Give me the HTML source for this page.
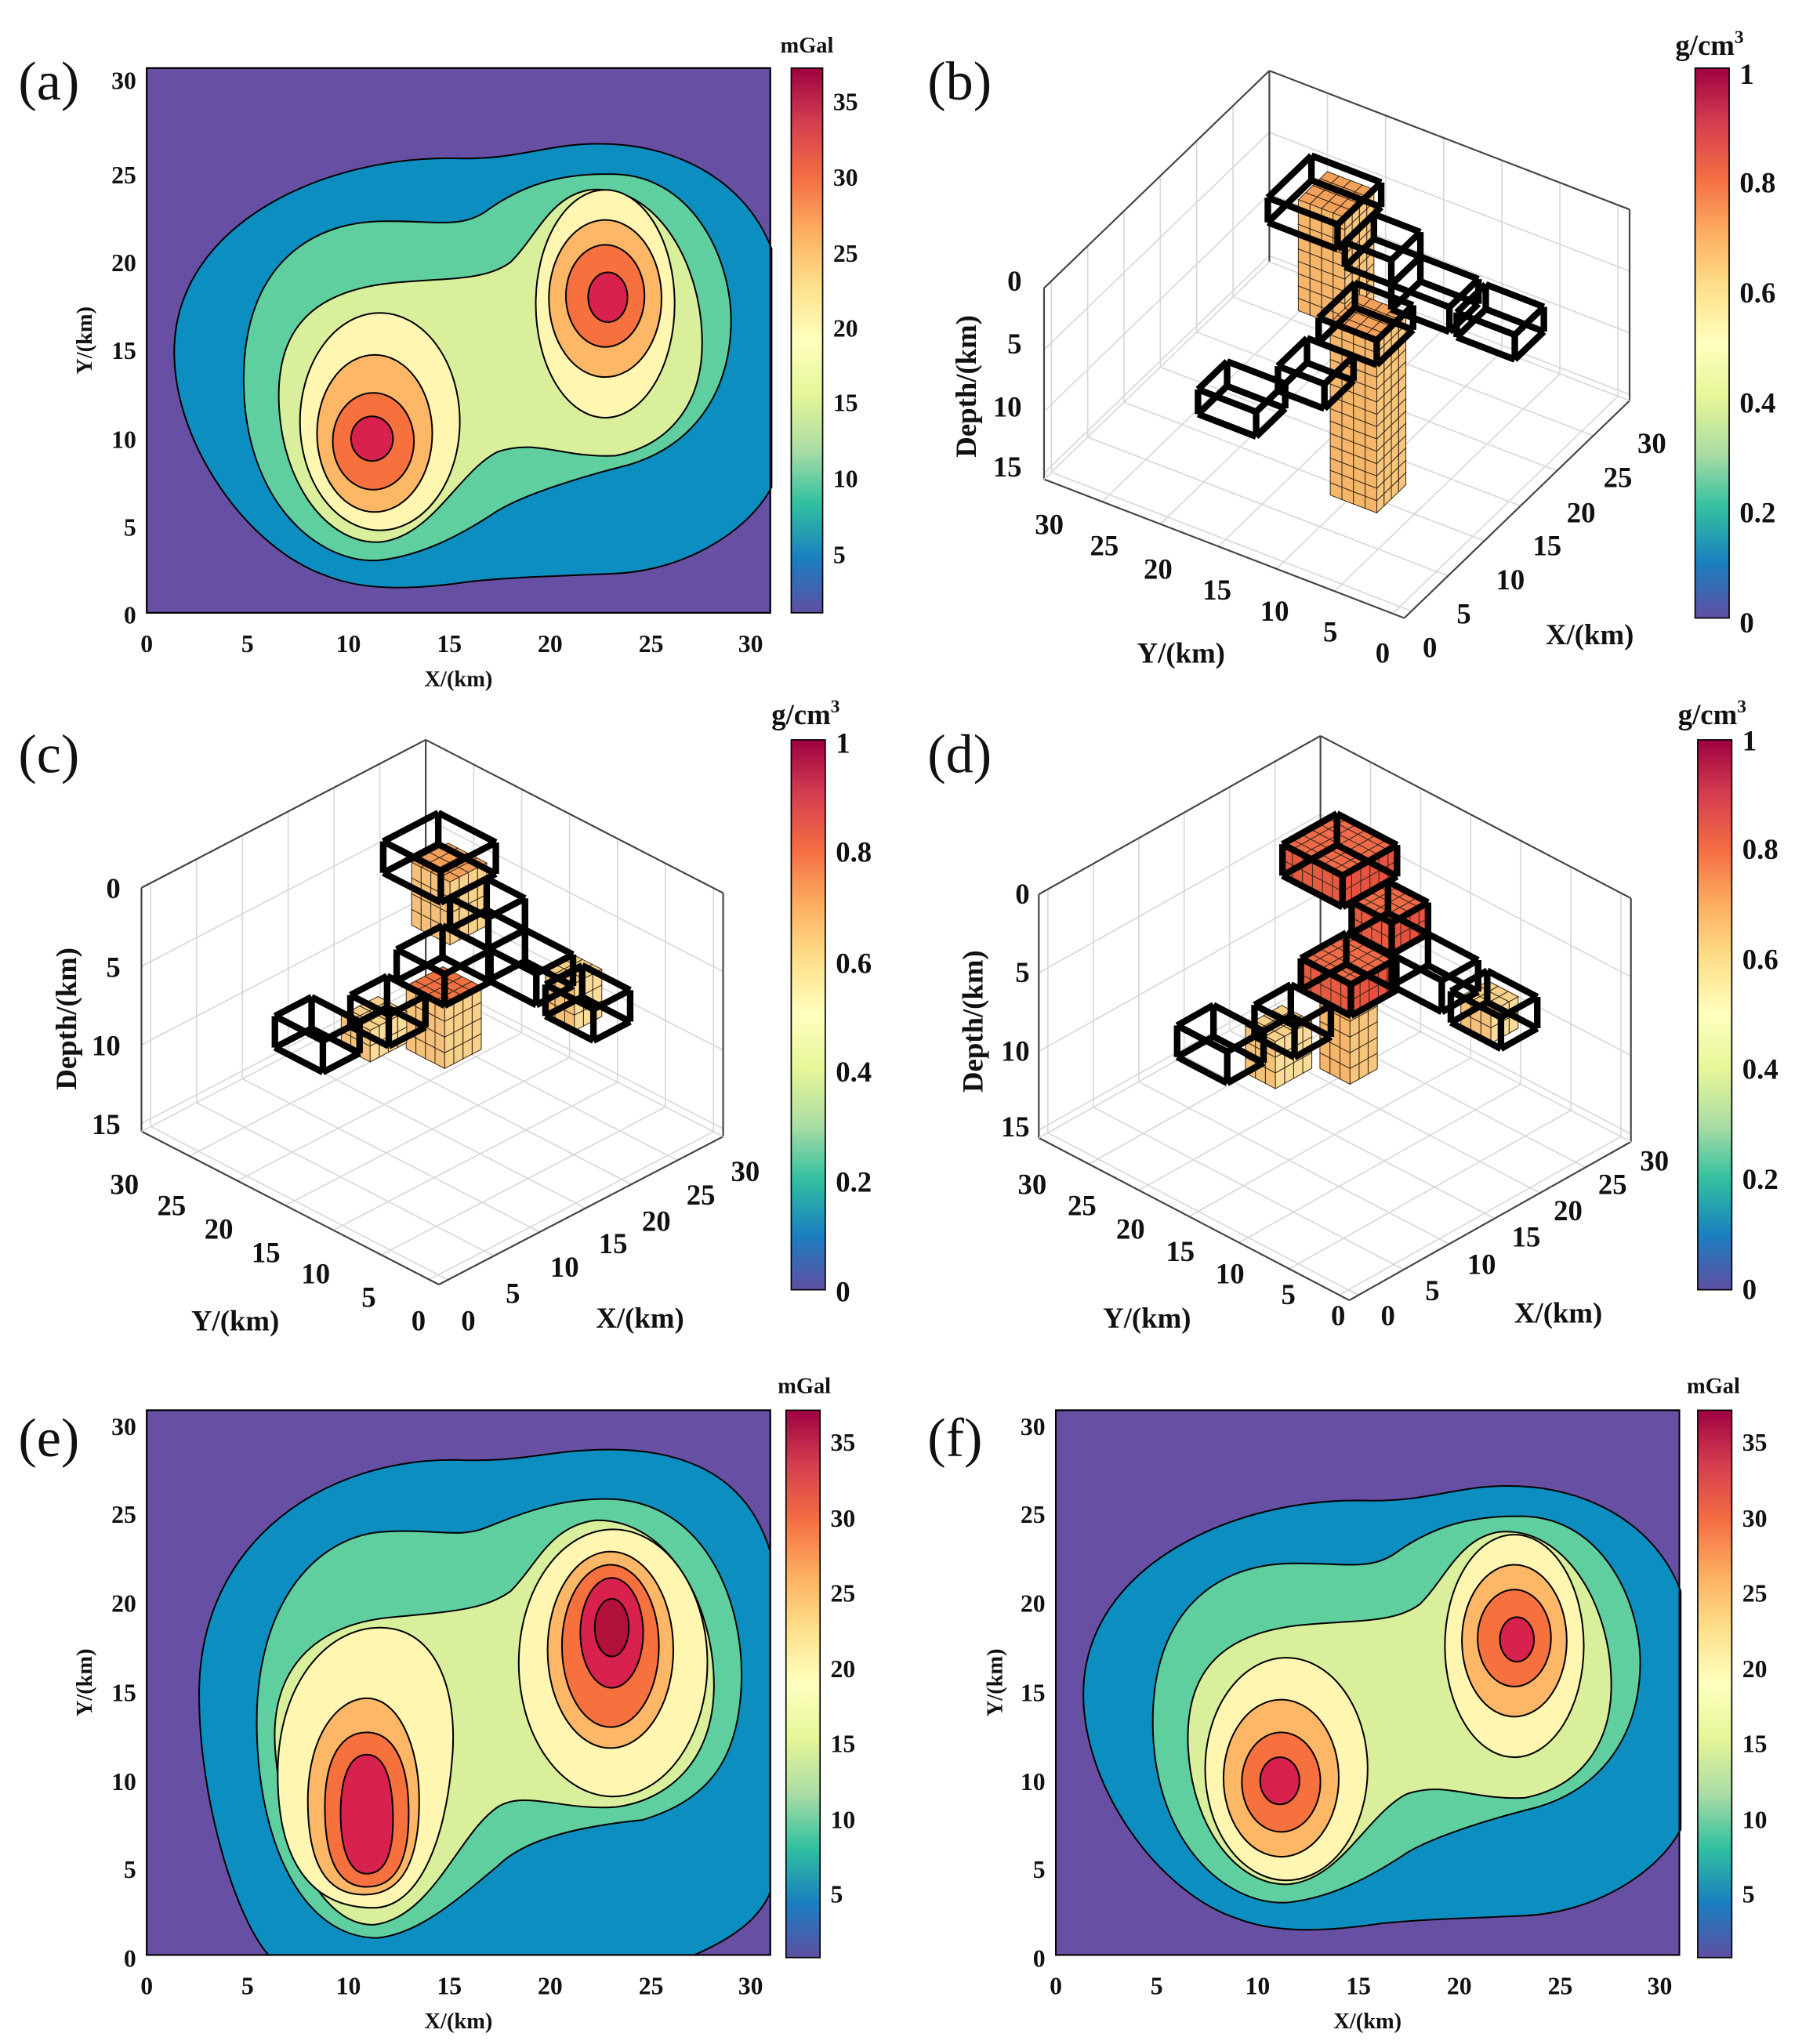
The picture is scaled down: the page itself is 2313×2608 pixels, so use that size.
<!DOCTYPE html>
<html><head><meta charset="utf-8"><style>
html,body{margin:0;padding:0;background:#fff}
svg{display:block}
text{font-family:"Liberation Serif",serif;font-weight:bold;fill:#111}
.t{font-size:19px}
.t3{font-size:22px}
.pl text{font-size:42px;font-weight:normal}
</style></head><body>
<svg id="s" width="2313" height="2608" viewBox="0 0 1384 1561" preserveAspectRatio="none" xmlns="http://www.w3.org/2000/svg">
<defs>
<linearGradient id="cb" x1="0" y1="0" x2="0" y2="1">
<stop offset="0" stop-color="#9e0142"/><stop offset="0.1" stop-color="#d53e4f"/><stop offset="0.2" stop-color="#f46d43"/><stop offset="0.3" stop-color="#fdae61"/><stop offset="0.4" stop-color="#fee08b"/><stop offset="0.5" stop-color="#ffffbf"/><stop offset="0.6" stop-color="#e6f598"/><stop offset="0.7" stop-color="#abdda4"/><stop offset="0.8" stop-color="#31c0a0"/><stop offset="0.9" stop-color="#1a7fc0"/><stop offset="1" stop-color="#5e4fa2"/>
</linearGradient>
<g id="cbase" stroke="#000" stroke-width="1.2">
<rect x="112" y="52" width="476" height="416" fill="#6750a4"/>
<path fill="#0d8ec0" d="M 589 190 C 570 140, 520 112, 465 110 C 420 108, 400 122, 350 121 C 250 118, 133 170, 133 269 C 133 340, 190 420, 250 440 C 280 452, 320 450, 360 444 C 400 440, 430 440, 470 438 C 530 435, 575 400, 589 372 Z"/>
<path fill="#5fcfa0" d="M 186 290 C 186 200, 240 170, 290 169 C 330 168, 350 175, 370 162 C 400 140, 430 132, 470 133 C 530 135, 560 200, 558 250 C 556 300, 530 340, 480 355 C 440 365, 400 378, 380 390 C 350 410, 320 425, 288 428 C 240 430, 186 380, 186 290 Z"/>
<path fill="#d9ef9b" d="M 213 310 C 210 250, 240 222, 300 216 C 340 212, 370 215, 390 200 C 410 180, 420 150, 450 145 C 500 140, 536 200, 536 262 C 536 310, 510 340, 470 348 C 430 350, 410 335, 380 345 C 350 360, 330 410, 290 414 C 250 416, 216 370, 213 310 Z"/>
</g>
</defs>
<!-- panel a -->
<use href="#cbase"/>
<g stroke="#000" stroke-width="1.2">
<ellipse cx="290" cy="322" rx="61" ry="83" fill="#fff6b2"/>
<ellipse cx="286" cy="331" rx="44" ry="60" fill="#fdb767"/>
<ellipse cx="285" cy="337" rx="31" ry="37" fill="#f7713f"/>
<ellipse cx="284" cy="335" rx="16" ry="17" fill="#d8214d"/>
<ellipse cx="462" cy="232" rx="53" ry="87" fill="#fff6b2"/>
<ellipse cx="462" cy="228" rx="43" ry="60" fill="#fdb767"/>
<ellipse cx="462" cy="226" rx="30" ry="39" fill="#f7713f"/>
<ellipse cx="464" cy="227" rx="15" ry="19" fill="#d8214d"/>
<rect x="112" y="52" width="476" height="416" fill="none"/>
</g>
<!-- panel f -->
<g transform="translate(694,1025)">
<use href="#cbase"/>
<g stroke="#000" stroke-width="1.2">
<ellipse cx="288" cy="326" rx="62" ry="85" fill="#fff6b2"/>
<ellipse cx="284" cy="333" rx="44" ry="60" fill="#fdb767"/>
<ellipse cx="284" cy="336" rx="30" ry="38" fill="#f7713f"/>
<ellipse cx="283" cy="335" rx="15" ry="18" fill="#d8214d"/>
<ellipse cx="462" cy="232" rx="53" ry="85" fill="#fff6b2"/>
<ellipse cx="462" cy="228" rx="40" ry="58" fill="#fdb767"/>
<ellipse cx="462" cy="226" rx="28" ry="37" fill="#f7713f"/>
<ellipse cx="464" cy="227" rx="13" ry="17" fill="#d8214d"/>
<rect x="112" y="52" width="476" height="416" fill="none"/>
</g></g>
<!-- panel e -->
<g transform="translate(0,1025)" stroke="#000" stroke-width="1.2">
<rect x="112" y="52" width="476" height="416" fill="#6750a4"/>
<path fill="#0d8ec0" d="M 588 160 C 570 100, 520 82, 465 82 C 420 82, 400 92, 350 90 C 250 88, 152 150, 152 269 C 152 350, 180 440, 205 468 L 530 468 C 560 455, 580 440, 588 420 Z"/>
<path fill="#5fcfa0" d="M 196 290 C 196 200, 240 150, 290 145 C 330 142, 350 150, 370 142 C 400 130, 430 118, 470 120 C 540 125, 568 200, 566 260 C 564 320, 540 350, 490 365 C 440 370, 400 380, 380 400 C 350 425, 320 452, 288 455 C 230 455, 196 380, 196 290 Z"/>
<path fill="#d9ef9b" d="M 210 310 C 206 250, 240 215, 300 210 C 340 206, 370 205, 390 190 C 410 170, 420 140, 455 136 C 510 135, 545 200, 545 262 C 545 320, 510 350, 470 355 C 430 358, 400 342, 380 355 C 350 375, 330 440, 285 445 C 240 445, 214 370, 210 310 Z"/>
<path fill="#fff6b2" d="M 212 330 C 212 260, 250 218, 290 218 C 335 218, 350 270, 345 320 C 340 380, 320 432, 285 432 C 240 432, 212 400, 212 330 Z"/>
<path fill="#fdb767" d="M 235 350 C 235 300, 258 272, 280 272 C 305 272, 320 310, 320 350 C 320 400, 305 422, 278 422 C 250 422, 235 400, 235 350 Z"/>
<path fill="#f7713f" d="M 248 355 C 248 315, 262 298, 280 298 C 300 298, 312 320, 312 360 C 312 400, 300 416, 280 416 C 258 416, 248 395, 248 355 Z"/>
<path fill="#d8214d" d="M 260 360 C 260 330, 268 315, 280 315 C 292 315, 300 330, 300 365 C 300 395, 292 406, 280 406 C 268 406, 260 390, 260 360 Z"/>
<ellipse cx="468" cy="245" rx="72" ry="102" fill="#fff6b2"/>
<ellipse cx="466" cy="235" rx="48" ry="75" fill="#fdb767"/>
<ellipse cx="466" cy="232" rx="37" ry="62" fill="#f7713f"/>
<ellipse cx="467" cy="222" rx="24" ry="42" fill="#d8214d"/>
<ellipse cx="467" cy="218" rx="13" ry="22" fill="#b0103a"/>
<rect x="112" y="52" width="476" height="416" fill="none"/>
</g>
<!-- colorbars -->
<g stroke="#000" stroke-width="1">
<rect x="604" y="52" width="24" height="416" fill="url(#cb)"/>
<rect x="1294" y="52" width="26" height="420" fill="url(#cb)"/>
<rect x="604" y="565" width="26" height="420" fill="url(#cb)"/>
<rect x="1296" y="565" width="26" height="420" fill="url(#cb)"/>
<rect x="600" y="1077" width="26" height="418" fill="url(#cb)"/>
<rect x="1296" y="1077" width="26" height="418" fill="url(#cb)"/>
</g>
<g class="t">
<text x="616" y="40" text-anchor="middle" font-size="17">mGal</text>
<text x="636" y="84">35</text><text x="636" y="142">30</text><text x="636" y="200">25</text><text x="636" y="257">20</text><text x="636" y="314">15</text><text x="636" y="372">10</text><text x="636" y="430">5</text>
<text x="614" y="1064" text-anchor="middle" font-size="17">mGal</text>
<text x="634" y="1108">35</text><text x="634" y="1166">30</text><text x="634" y="1223">25</text><text x="634" y="1281">20</text><text x="634" y="1338">15</text><text x="634" y="1396">10</text><text x="634" y="1453">5</text>
<text x="1308" y="1064" text-anchor="middle" font-size="17">mGal</text>
<text x="1330" y="1108">35</text><text x="1330" y="1166">30</text><text x="1330" y="1223">25</text><text x="1330" y="1281">20</text><text x="1330" y="1338">15</text><text x="1330" y="1396">10</text><text x="1330" y="1453">5</text>
</g>
<g class="t3">
<text x="1305" y="42" text-anchor="middle">g/cm<tspan dy="-9" font-size="14">3</tspan></text>
<text x="1328" y="64">1</text><text x="1328" y="147">0.8</text><text x="1328" y="231">0.6</text><text x="1328" y="315">0.4</text><text x="1328" y="399">0.2</text><text x="1328" y="483">0</text>
<text x="615" y="553" text-anchor="middle">g/cm<tspan dy="-9" font-size="14">3</tspan></text>
<text x="638" y="575">1</text><text x="638" y="658">0.8</text><text x="638" y="743">0.6</text><text x="638" y="826">0.4</text><text x="638" y="910">0.2</text><text x="638" y="994">0</text>
<text x="1307" y="553" text-anchor="middle">g/cm<tspan dy="-9" font-size="14">3</tspan></text>
<text x="1330" y="573">1</text><text x="1330" y="656">0.8</text><text x="1330" y="740">0.6</text><text x="1330" y="824">0.4</text><text x="1330" y="908">0.2</text><text x="1330" y="992">0</text>
</g>
<!-- 2D axis ticks -->
<g class="t" text-anchor="end">
<text x="104" y="68">30</text><text x="104" y="140">25</text><text x="104" y="207">20</text><text x="104" y="274">15</text><text x="104" y="342">10</text><text x="104" y="409">5</text><text x="104" y="476">0</text>
<text x="104" y="1096">30</text><text x="104" y="1163">25</text><text x="104" y="1231">20</text><text x="104" y="1299">15</text><text x="104" y="1367">10</text><text x="104" y="1434">5</text><text x="104" y="1502">0</text>
<text x="798" y="1096">30</text><text x="798" y="1163">25</text><text x="798" y="1231">20</text><text x="798" y="1299">15</text><text x="798" y="1367">10</text><text x="798" y="1434">5</text><text x="798" y="1502">0</text>
</g>
<g class="t" text-anchor="middle">
<text x="112" y="498">0</text><text x="189" y="498">5</text><text x="266" y="498">10</text><text x="343" y="498">15</text><text x="420" y="498">20</text><text x="497" y="498">25</text><text x="573" y="498">30</text>
<text x="350" y="524" font-size="17">X/(km)</text>
<text x="112" y="1523">0</text><text x="189" y="1523">5</text><text x="266" y="1523">10</text><text x="343" y="1523">15</text><text x="420" y="1523">20</text><text x="497" y="1523">25</text><text x="573" y="1523">30</text>
<text x="350" y="1549" font-size="17">X/(km)</text>
<text x="806" y="1523">0</text><text x="883" y="1523">5</text><text x="960" y="1523">10</text><text x="1037" y="1523">15</text><text x="1114" y="1523">20</text><text x="1191" y="1523">25</text><text x="1267" y="1523">30</text>
<text x="1044" y="1549" font-size="17">X/(km)</text>
<text transform="translate(70,260) rotate(-90)" font-size="17">Y/(km)</text>
<text transform="translate(70,1285) rotate(-90)" font-size="17">Y/(km)</text>
<text transform="translate(765,1285) rotate(-90)" font-size="17">Y/(km)</text>
</g>
<g class="pl">
<text x="14" y="76">(a)</text><text x="708" y="76">(b)</text>
<text x="14" y="590">(c)</text><text x="708" y="590">(d)</text>
<text x="14" y="1112">(e)</text><text x="708" y="1112">(f)</text>
</g>
<!-- 3D labels -->
<g class="t3">
<text x="780" y="222" text-anchor="end">0</text><text x="780" y="270" text-anchor="end">5</text><text x="780" y="318" text-anchor="end">10</text><text x="780" y="364" text-anchor="end">15</text>
<text transform="translate(745,295) rotate(-90)" text-anchor="middle">Depth/(km)</text>
<text x="790" y="408">30</text><text x="832" y="424">25</text><text x="873" y="442">20</text><text x="918" y="458">15</text><text x="962" y="474">10</text><text x="1010" y="490">5</text><text x="1050" y="506">0</text>
<text x="868" y="506">Y/(km)</text>
<text x="1086" y="502">0</text><text x="1112" y="476">5</text><text x="1142" y="450">10</text><text x="1170" y="424">15</text><text x="1196" y="399">20</text><text x="1224" y="372">25</text><text x="1250" y="346">30</text>
<text x="1180" y="492">X/(km)</text>

<text x="92" y="686" text-anchor="end">0</text><text x="92" y="746" text-anchor="end">5</text><text x="92" y="806" text-anchor="end">10</text><text x="92" y="866" text-anchor="end">15</text>
<text transform="translate(58,778) rotate(-90)" text-anchor="middle">Depth/(km)</text>
<text x="84" y="912">30</text><text x="120" y="928">25</text><text x="156" y="946">20</text><text x="192" y="964">15</text><text x="230" y="980">10</text><text x="276" y="998">5</text><text x="314" y="1016">0</text>
<text x="146" y="1016">Y/(km)</text>
<text x="352" y="1016">0</text><text x="386" y="995">5</text><text x="420" y="975">10</text><text x="457" y="957">15</text><text x="490" y="940">20</text><text x="524" y="920">25</text><text x="558" y="902">30</text>
<text x="455" y="1014">X/(km)</text>

<text x="786" y="690" text-anchor="end">0</text><text x="786" y="750" text-anchor="end">5</text><text x="786" y="810" text-anchor="end">10</text><text x="786" y="868" text-anchor="end">15</text>
<text transform="translate(750,780) rotate(-90)" text-anchor="middle">Depth/(km)</text>
<text x="777" y="912">30</text><text x="815" y="928">25</text><text x="852" y="946">20</text><text x="890" y="963">15</text><text x="928" y="980">10</text><text x="978" y="996">5</text><text x="1016" y="1012">0</text>
<text x="842" y="1014">Y/(km)</text>
<text x="1054" y="1012">0</text><text x="1088" y="993">5</text><text x="1120" y="973">10</text><text x="1154" y="952">15</text><text x="1186" y="932">20</text><text x="1220" y="912">25</text><text x="1252" y="894">30</text>
<text x="1156" y="1010">X/(km)</text>
</g>
<g id="g3"></g>
</svg>
<script>
(function(){
var NS="http://www.w3.org/2000/svg",root=document.getElementById("g3");
function el(t,a,p){var e=document.createElementNS(NS,t);for(var k in a)e.setAttribute(k,a[k]);(p||root).appendChild(e);return e;}
function line(a,b,c,w,p){el("line",{x1:a[0],y1:a[1],x2:b[0],y2:b[1],stroke:c,"stroke-width":w},p);}
function add(a,b){return[a[0]+b[0],a[1]+b[1]];}
function sub(a,b){return[a[0]-b[0],a[1]-b[1]];}
function mul(a,s){return[a[0]*s,a[1]*s];}
function make(L,B,R,h){
 var H=[0,h],Lb=add(L,H),Bb=add(B,H),Rb=add(R,H),Fb=sub(add(Lb,Rb),Bb);
 var G={u:mul(sub(Lb,Fb),1/31),v:mul(sub(Rb,Fb),1/31),w:[0,h/15.5],Ft:sub(Fb,H)};
 G.p=function(x,y,z){return[G.Ft[0]+x*G.v[0]+y*G.u[0],G.Ft[1]+x*G.v[1]+y*G.u[1]+z*G.w[1]];};
 var g=el("g",{});
 var gc="#d8d8d8";
 for(var i=1;i<=6;i++){var t=i*5/31;
  var P=add(Bb,mul(sub(Rb,Bb),t));line(P,add(P,sub(Lb,Bb)),gc,1,g);
  P=add(Bb,mul(sub(Lb,Bb),t));line(P,add(P,sub(Rb,Bb)),gc,1,g);
  P=add(B,mul(sub(R,B),t));line(P,add(P,H),gc,1,g);
  P=add(B,mul(sub(L,B),t));line(P,add(P,H),gc,1,g);}
 for(var d=5;d<=15;d+=5){var o=[0,d*h/15.5];line(add(L,o),add(B,o),gc,1,g);line(add(B,o),add(R,o),gc,1,g);}
 var k="#444";
 line(L,B,k,1.3,g);line(B,R,k,1.3,g);line(L,Lb,k,1.3,g);line(B,Bb,k,1.3,g);line(R,Rb,k,1.3,g);
 line(Lb,Fb,k,1.3,g);line(Fb,Rb,k,1.3,g);line(Lb,Bb,gc,1,g);line(Bb,Rb,gc,1,g);
 return G;}
function poly(pts,f,s,w){el("polygon",{points:pts.map(function(q){return q[0].toFixed(1)+","+q[1].toFixed(1)}).join(" "),fill:f,stroke:s,"stroke-width":w});}
function vox(G,cells,top,side,side2){
 cells.sort(function(a,b){return (b[0]+b[1])-(a[0]+a[1])||b[2]-a[2];});
 cells.forEach(function(c){var x=c[0],y=c[1],z=c[2],p=G.p;var col=c[3]||top;
  poly([p(x,y,z),p(x+1,y,z),p(x+1,y+1,z),p(x,y+1,z)],col,"#3a2a1a",0.6);
  poly([p(x,y,z),p(x+1,y,z),p(x+1,y,z+1),p(x,y,z+1)],c[4]||side,"#3a2a1a",0.6);
  poly([p(x,y,z),p(x,y+1,z),p(x,y+1,z+1),p(x,y,z+1)],c[5]||side2,"#3a2a1a",0.6);});}
function col(a,x0,x1,y0,y1,z0,z1,t,s,s2){for(var x=x0;x<x1;x++)for(var y=y0;y<y1;y++)for(var z=z0;z<z1;z++)a.push([x,y,z,t,s,s2]);}
function frame(G,b){var x0=b[0],x1=b[1],y0=b[2],y1=b[3],z0=b[4],z1=b[5],p=G.p;
 var E=[[[x0,y0,z0],[x1,y0,z0]],[[x1,y0,z0],[x1,y1,z0]],[[x1,y1,z0],[x0,y1,z0]],[[x0,y1,z0],[x0,y0,z0]],
 [[x0,y0,z1],[x1,y0,z1]],[[x1,y0,z1],[x1,y1,z1]],[[x1,y1,z1],[x0,y1,z1]],[[x0,y1,z1],[x0,y0,z1]],
 [[x0,y0,z0],[x0,y0,z1]],[[x1,y0,z0],[x1,y0,z1]],[[x1,y1,z0],[x1,y1,z1]],[[x0,y1,z0],[x0,y1,z1]]];
 E.forEach(function(e){line(p.apply(null,e[0]),p.apply(null,e[1]),"#000",5);});}
var frames=[[18,24,17,23,0,2],[19,23,13,17,2,4],[19,23,8,13,4,6],[20,24,3,8,5,7],[9,14,8,13,1,3],[5,9,10,14,3,5],[2,6,14,19,5,7]];
// b
var Gb=make([797,220],[969,54],[1244,160],146);
var c=[];col(c,19,23,17,21,0,9,"#f3a05a","#f7c67c","#f5b56a");col(c,9,13,8,12,1,15,"#f3a05a","#f7c67c","#f5b56a");
vox(Gb,c);frames.forEach(function(f){frame(Gb,f);});
// c
var Gc=make([108,678],[325,565],[552,682],186);
c=[];col(c,19,23,17,21,1,5,"#f3a05a","#f7d08a","#f5c07a");col(c,9,13,8,12,3,7,"#f07040","#f7d08a","#f5c07a");col(c,20,23,5,8,4,7,"#f7d08a","#f9dc9a","#f5c07a");col(c,4,8,11,14,4,6,"#f7d08a","#f9dc9a","#f5c07a");
vox(Gc,c);frames.forEach(function(f){frame(Gc,f);});
// d
var Gd=make([793,683],[1008,562],[1245,686],186);
c=[];col(c,18,24,17,23,0,2,"#ef6a48","#e8503f","#e55a40");col(c,19,23,13,17,2,4,"#ef6a48","#e8503f","#e55a40");col(c,9,14,8,13,1,3,"#ef6a48","#e8503f","#e55a40");col(c,10,13,9,12,3,8,"#f7c67c","#f7c67c","#f5b56a");col(c,4,8,11,14,4,7,"#f7d08a","#f9dc9a","#f5c07a");col(c,20,23,4,7,5,7,"#f7d08a","#f9dc9a","#f5c07a");
vox(Gd,c);frames.forEach(function(f){frame(Gd,f);});
})();
</script>
</body></html>
